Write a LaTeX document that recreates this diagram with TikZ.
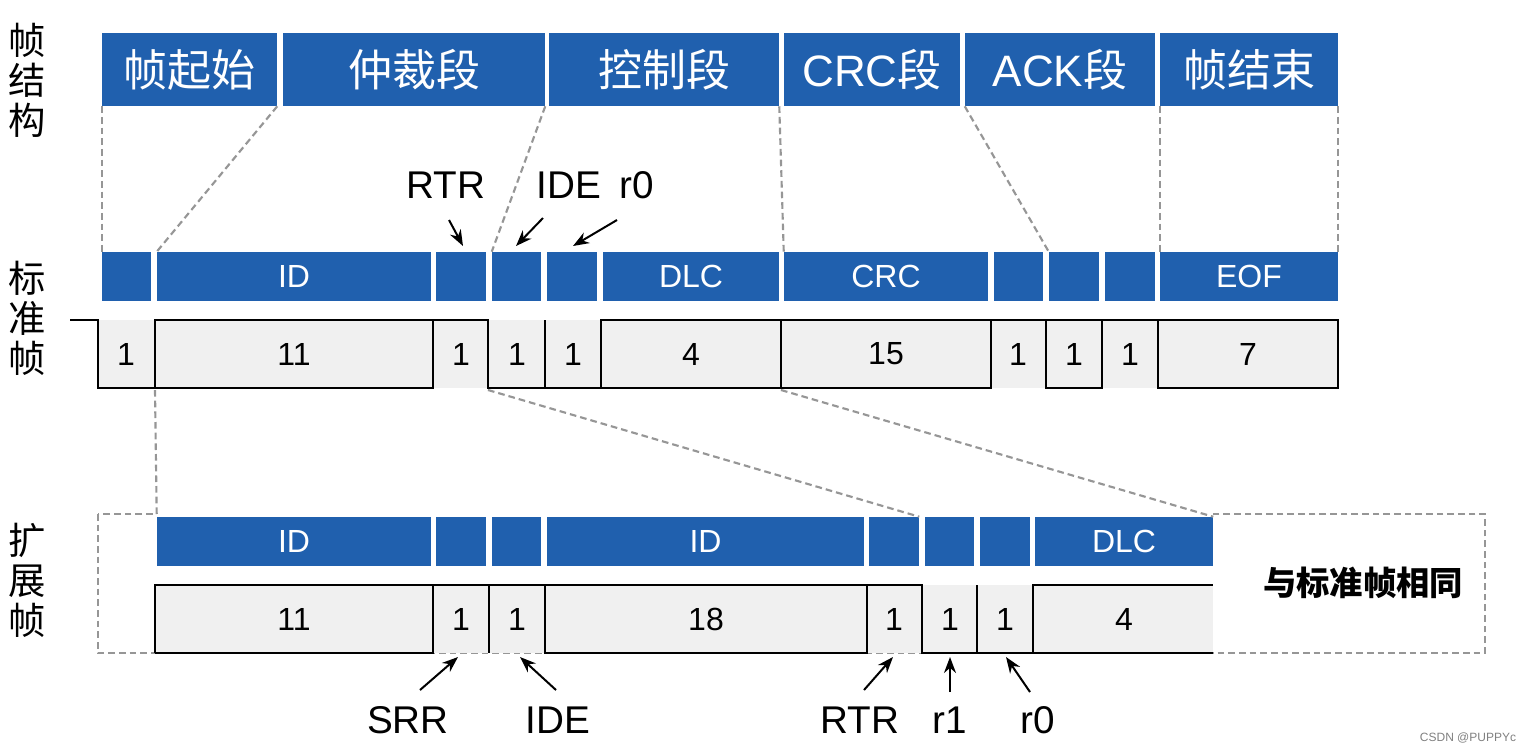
\documentclass[tikz,border=0pt]{standalone}
\usepackage{fontspec}
\setmainfont{Liberation Sans}
\newfontfamily\cjk{Noto Sans CJK SC}
\usetikzlibrary{arrows.meta}
\definecolor{cblue}{RGB}{32,96,174}
\definecolor{cgrey}{RGB}{240,240,240}
\definecolor{dgrey}{RGB}{150,150,150}
\tikzset{
 bcell/.style={fill=cblue,draw=none,inner sep=0pt,text=white,font=\fontsize{24pt}{24pt}\selectfont},
 tcell/.style={fill=cblue,draw=none,inner sep=0pt,text=white,font=\cjk\fontsize{33pt}{33pt}\selectfont},
 num/.style={inner sep=0pt,font=\fontsize{24pt}{24pt}\selectfont},
 lab/.style={inner sep=0pt,font=\fontsize{29pt}{29pt}\selectfont},
 side/.style={inner sep=0pt,font=\cjk\fontsize{28pt}{30pt}\selectfont,align=center},
 guide/.style={draw=dgrey,dashed,line width=1.6pt,dash pattern=on 5pt off 3pt},
 wave/.style={line width=1.6pt,black},
 arr/.style={-{Stealth[length=12pt,width=9pt]},line width=1.5pt}
}
\newcommand\blk[6]{\node[#1,minimum width={(#4-#3)*0.75pt},minimum height={(#6-#5)*0.75pt}] (#2) at ({(#3+#4)/2},{(#5+#6)/2}) {#1X};}
\newcommand\cellb[6]{\node[bcell,minimum width={(#3-#2)*0.75pt},minimum height={(#5-#4)*0.75pt}] (#1) at ({(#2+#3)/2},{(#4+#5)/2}) {#6};}
\newcommand\cellt[6]{\node[tcell,minimum width={(#3-#2)*0.75pt},minimum height={(#5-#4)*0.75pt}] (#1) at ({(#2+#3)/2},{(#4+#5)/2}) {#6};}
\begin{document}
\begin{tikzpicture}[x=0.75pt,y=-0.75pt]
\useasboundingbox (0,0) rectangle (1523,751);
% top row
\cellt{t1}{102}{277}{33}{106}{帧起始}
\cellt{t2}{283}{545}{33}{106}{仲裁段}
\cellt{t3}{549}{779}{33}{106}{控制段}
\cellt{t4}{784}{960}{33}{106}{{\setmainfont{Liberation Sans}\rmfamily CRC}段}
\cellt{t5}{965}{1155}{33}{106}{{\setmainfont{Liberation Sans}\rmfamily ACK}段}
\cellt{t6}{1160}{1338}{33}{106}{帧结束}
% side labels
\node[side] (s1) at (27,80) {帧\\结\\构};
\node[side] (s2) at (27,318) {标\\准\\帧};
\node[side] (s3) at (27,580) {扩\\展\\帧};
% standard blue row
\cellb{a1}{102}{151}{252}{301}{}
\cellb{a2}{157}{431}{252}{301}{ID}
\cellb{a3}{436}{486}{252}{301}{}
\cellb{a4}{492}{541}{252}{301}{}
\cellb{a5}{547}{597}{252}{301}{}
\cellb{a6}{603}{779}{252}{301}{DLC}
\cellb{a7}{784}{988}{252}{301}{CRC}
\cellb{a8}{994}{1043}{252}{301}{}
\cellb{a9}{1049}{1099}{252}{301}{}
\cellb{a10}{1105}{1155}{252}{301}{}
\cellb{a11}{1160}{1338}{252}{301}{EOF}
% standard waveform
\fill[cgrey] (98,320) rectangle (1338,388);
\draw[wave] (70,320) -- (98,320) -- (98,388) -- (155,388) -- (155,320) -- (488,320) -- (488,388) -- (601,388) -- (601,320) -- (991,320) -- (991,320);
\draw[wave] (155,388) -- (433,388) -- (433,320);
\draw[wave] (545,320) -- (545,388);
\draw[wave] (601,388) -- (991,388) -- (991,320);
\draw[wave] (781,320) -- (781,388);
\draw[wave] (991,320) -- (1338,320) -- (1338,388) -- (1158,388) -- (1158,320);
\draw[wave] (1046,320) -- (1046,388) -- (1102,388) -- (1102,320);
\foreach \x/\t [count=\i] in {126/1,294/11,461/1,517/1,573/1,691/4,886/15,1018/1,1074/1,1130/1,1248/7}
  \node[num] (n\i) at (\x,354) {\t};
% extended dashed box
\draw[guide] (98,514) rectangle (1485,653);
\fill[white] (155,506) rectangle (1213,570);
% extended blue row
\cellb{b1}{157}{431}{517}{566}{ID}
\cellb{b2}{436}{486}{517}{566}{}
\cellb{b3}{492}{541}{517}{566}{}
\cellb{b4}{547}{864}{517}{566}{ID}
\cellb{b5}{869}{919}{517}{566}{}
\cellb{b6}{925}{974}{517}{566}{}
\cellb{b7}{980}{1030}{517}{566}{}
\cellb{b8}{1035}{1213}{517}{566}{DLC}
% extended waveform
\fill[cgrey] (155,585) rectangle (1213,653);
\draw[wave] (155,653) -- (155,585) -- (922,585) -- (922,653) -- (1213,653);
\draw[wave] (155,653) -- (433,653) -- (433,585);
\draw[wave] (489,585) -- (489,653);
\draw[wave] (545,585) -- (545,653) -- (867,653) -- (867,585);
\draw[wave] (977,585) -- (977,653);
\draw[wave] (1033,653) -- (1033,585) -- (1213,585);
\foreach \x/\t [count=\i] in {294/11,461/1,517/1,706/18,894/1,950/1,1005/1,1124/4}
  \node[num] (m\i) at (\x,619) {\t};
\node[inner sep=0pt,font=\cjk\bfseries\fontsize{25pt}{25pt}\selectfont] (same) at (1363,583) {与标准帧相同};
% guides
\draw[guide] (t1.south west) -- (a1.north west);
\draw[guide] (t1.south east) -- (a2.north west);
\draw[guide] (t2.south east) -- (a4.north west);
\draw[guide] (t3.south east) -- (a7.north west);
\draw[guide] (t5.south west) -- (a9.north west);
\draw[guide] (t6.south west) -- (a11.north west);
\draw[guide] (t6.south east) -- (a11.north east);
\draw[guide] (155,390) -- (b1.north west);
\draw[guide] (488,390) -- (b5.north east);
\draw[guide] (781,390) -- (b8.north east);
% labels and arrows
\node[lab] (l1) at (446,185) {RTR};
\node[lab] (l2) at (569,185) {IDE};
\node[lab] (l3) at (637,185) {r0};
\draw[arr] (449,220) -- (463,246);
\draw[arr] (543,218) -- (516,246);
\draw[arr] (617,220) -- (573,246);
\node[lab] (l4) at (408,720) {SRR};
\node[lab] (l5) at (558,720) {IDE};
\node[lab] (l6) at (860,720) {RTR};
\node[lab] (l7) at (950,720) {r1};
\node[lab] (l8) at (1038,720) {r0};
\draw[arr] (420,690) -- (458,657);
\draw[arr] (556,690) -- (520,657);
\draw[arr] (864,690) -- (893,657);
\draw[arr] (950,692) -- (950,657);
\draw[arr] (1030,692) -- (1006,657);
\node[inner sep=0pt,font=\fontsize{9pt}{9pt}\selectfont,text=gray] (csdn) at (1468,738) {CSDN @PUPPYc};
\end{tikzpicture}
\end{document}
